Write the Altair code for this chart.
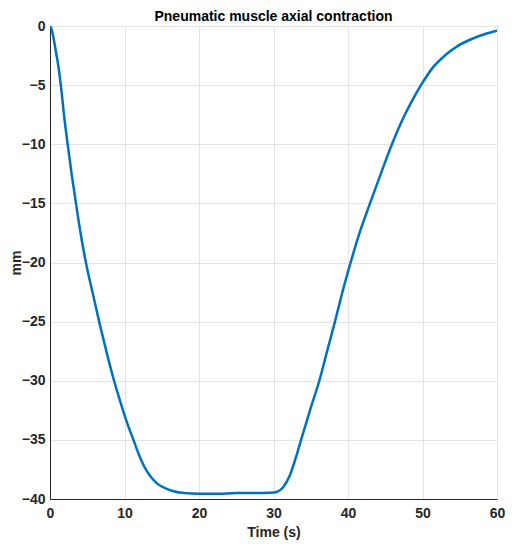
import altair as alt
import pandas as pd

time_s = [0, 0.2, 0.5, 0.8, 1.1, 1.45, 1.93, 2.37, 2.9, 3.49, 4.1, 4.82, 5.7, 6.6, 7.6, 8.6,
          9.3, 10.0, 10.6, 11.2, 11.9, 12.6, 13.5, 14.4, 15.5, 16.6, 18.0, 20.0, 22.5,
          25.0, 27.5, 29.5, 30.0, 30.6, 31.3, 32.2, 33.05, 33.7, 34.9, 36.15, 37.2,
          38.25, 39.25, 40.35, 41.55, 42.95, 44.4, 45.9, 47.4, 48.7, 49.9, 51.4, 53.0,
          54.7, 56.6, 58.3, 60.0]
contraction_mm = [0, -0.25, -1.1, -2.2, -3.3, -5.0, -7.8, -10.0, -12.5, -15.0, -17.5, -20.0,
                  -22.5, -25.0, -27.6, -30.0, -31.5, -32.9, -34.0, -35.0, -36.2, -37.2, -38.1,
                  -38.7, -39.1, -39.35, -39.5, -39.55, -39.55, -39.5, -39.5, -39.48, -39.45,
                  -39.35, -39.0, -38.0, -36.4, -35.0, -32.5, -30.0, -27.5, -25.0, -22.5, -20.0,
                  -17.5, -15.0, -12.5, -10.0, -7.8, -6.2, -4.9, -3.5, -2.5, -1.7, -1.1, -0.7,
                  -0.4]

x_ticks = [0, 10, 20, 30, 40, 50, 60]
y_ticks = [0, -5, -10, -15, -20, -25, -30, -35, -40]

df = pd.DataFrame({"t": time_s, "v": contraction_mm})

FONT = "Liberation Sans"
AX = "#262626"

chart = alt.Chart(df).mark_line(
    color="#0072BD", strokeWidth=2.5, interpolate="monotone", clip=True
).encode(
    x=alt.X("t:Q", scale=alt.Scale(domain=[0, 60], nice=False, zero=False),
            axis=alt.Axis(values=x_ticks, title="Time (s)", format="d",
                          labelPadding=7, titlePadding=5, labelFlush=False)),
    y=alt.Y("v:Q", scale=alt.Scale(domain=[-40, 0], nice=False, zero=False),
            axis=alt.Axis(values=y_ticks, title="mm", format="d",
                          labelPadding=5, titleX=-27, labelFlush=False)),
).properties(
    width=447, height=473,
    title=alt.TitleParams("Pneumatic muscle axial contraction", font=FONT, fontSize=14,
                          fontWeight="bold", color="#000000", offset=-5, anchor="middle"),
    autosize=alt.AutoSizeParams(type="none"),
    padding={"left": 42, "top": 18, "right": 8, "bottom": 43},
).configure_view(
    stroke=AX, strokeWidth=1
).configure_axis(
    labelFont=FONT, labelFontSize=14, labelFontWeight="bold", labelColor=AX,
    titleFont=FONT, titleFontSize=14, titleFontWeight="bold", titleColor=AX,
    grid=True, gridColor="#e3e3e3", gridWidth=1,
    domain=True, domainColor=AX, ticks=False,
).configure_axisY(
    labelAlign="right"
)

chart.save("out.html", embed_options={"renderer": "svg", "actions": False})
